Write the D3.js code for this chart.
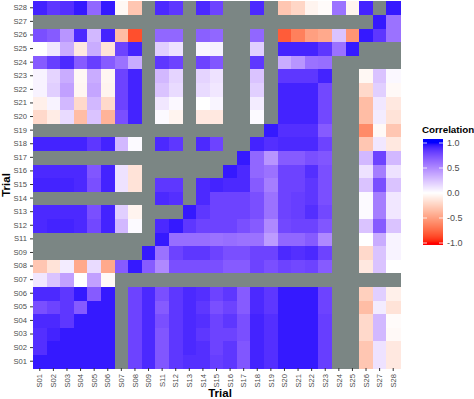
<!DOCTYPE html>
<html>
<head>
<meta charset="utf-8">
<script src="https://cdn.jsdelivr.net/npm/d3@7"></script>
<style>
  body { margin: 0; background: #fff; }
  svg  { display: block; font-family: "Liberation Sans", Arial, sans-serif; }
</style>
</head>
<body>
<div id="chart"></div>
<script>
var NA = null;

// trials on both axes (S10 is missing in the source)
var trials = ["S01","S02","S03","S04","S05","S06","S07","S08","S09",
              "S11","S12","S13","S14","S15","S16","S17","S18","S19",
              "S20","S21","S22","S23","S24","S25","S26","S27","S28"];

// one row of correlations per trial, columns in the order of `trials`
var s01 = [0.95,0.95,0.95,0.95,0.95,0.95,NA,0.8,0.9,0.72,0.85,0.88,0.88,0.82,0.85,0.72,0.92,0.88,0.95,0.95,0.95,0.82,NA,NA,-0.3,0.12,-0.12];
var s02 = [0.88,0.95,0.95,0.95,0.95,0.95,NA,0.8,0.9,0.72,0.85,0.9,0.88,0.8,0.85,0.72,0.92,0.88,0.95,0.95,0.95,0.82,NA,NA,-0.3,0.12,-0.12];
var s03 = [0.88,0.92,0.95,0.95,0.95,0.95,NA,0.8,0.9,0.72,0.85,0.9,0.85,0.8,0.8,0.75,0.92,0.88,0.95,0.95,0.95,0.82,NA,NA,-0.2,0.3,-0.03];
var s04 = [0.9,0.9,0.85,0.95,0.95,0.95,NA,0.8,0.9,0.75,0.85,0.9,0.88,0.8,0.85,0.75,0.92,0.88,0.95,0.95,0.95,0.82,NA,NA,-0.2,0.3,-0.02];
var s05 = [0.75,0.8,0.85,0.7,0.95,0.95,NA,0.8,0.9,0.7,0.85,0.9,0.85,0.75,0.8,0.7,0.9,0.85,0.95,0.95,0.95,0.8,NA,NA,-0.35,0.08,-0.15];
var s06 = [0.9,0.9,0.85,0.95,0.7,0.95,NA,0.8,0.9,0.75,0.85,0.9,0.88,0.8,0.85,0.7,0.9,0.85,0.95,0.95,0.95,0.8,NA,NA,-0.25,0.2,-0.08];
var s07 = [0.1,0.25,0.4,0.0,0.4,-0.03,NA,NA,NA,NA,NA,NA,NA,NA,NA,NA,NA,NA,NA,NA,NA,NA,NA,NA,NA,NA,NA];
var s08 = [-0.3,-0.15,0.08,-0.45,0.15,-0.45,0.7,0.95,0.7,0.5,0.75,0.75,0.75,0.75,0.7,0.7,0.8,0.75,0.8,0.78,0.8,0.7,NA,NA,-0.12,0.25,0.0];
var s09 = [NA,NA,NA,NA,NA,NA,NA,NA,0.95,0.6,0.8,0.85,0.85,0.8,0.75,0.75,0.8,0.8,0.9,0.88,0.9,0.8,NA,NA,-0.2,0.25,0.05];
var s11 = [NA,NA,NA,NA,NA,NA,NA,NA,NA,0.95,0.62,0.62,0.62,0.6,0.62,0.6,0.6,0.42,0.65,0.65,0.7,0.5,NA,NA,0.0,0.35,0.05];
var s12 = [0.9,0.92,0.92,0.9,0.78,0.92,0.3,0.02,NA,0.9,0.95,0.85,0.8,0.8,0.8,0.75,0.7,0.5,0.78,0.8,0.8,0.72,NA,NA,0.25,0.7,0.25];
var s13 = [0.9,0.9,0.9,0.9,0.75,0.92,0.2,-0.06,NA,NA,NA,0.95,0.85,0.8,0.8,0.8,0.75,0.6,0.8,0.82,0.88,0.78,NA,NA,0.02,0.55,0.1];
var s14 = [NA,NA,NA,NA,NA,NA,NA,NA,NA,0.9,0.88,NA,0.9,0.8,0.8,0.8,0.75,0.6,0.8,0.82,0.85,0.75,NA,NA,0.02,0.55,0.1];
var s15 = [0.92,0.92,0.92,0.9,0.75,0.92,0.12,-0.15,NA,0.85,0.85,NA,0.9,0.92,0.9,0.9,0.7,0.55,0.8,0.8,0.85,0.75,NA,NA,0.25,0.75,0.25];
var s16 = [0.9,0.9,0.9,0.9,0.72,0.92,0.12,-0.15,NA,NA,NA,NA,NA,NA,0.95,0.9,0.65,0.6,0.8,0.8,0.88,0.75,NA,NA,0.12,0.55,0.12];
var s17 = [NA,NA,NA,NA,NA,NA,NA,NA,NA,NA,NA,NA,NA,NA,NA,0.95,0.65,0.45,0.7,0.7,0.75,0.72,NA,NA,0.3,0.8,0.3];
var s18 = [0.92,0.92,0.92,0.92,0.85,0.92,0.3,0.02,NA,0.9,0.85,NA,0.9,0.8,NA,NA,0.92,0.88,0.9,0.9,0.9,0.8,NA,NA,-0.3,0.1,-0.12];
var s19 = [NA,NA,NA,NA,NA,NA,NA,NA,NA,NA,NA,NA,NA,NA,NA,NA,NA,0.95,0.88,0.88,0.88,0.7,NA,NA,-0.6,-0.03,-0.3];
var s20 = [-0.2,-0.1,0.15,-0.35,0.25,-0.4,0.75,0.92,NA,0.02,-0.06,NA,-0.12,-0.12,NA,NA,0.02,NA,0.92,0.92,0.92,0.78,NA,NA,-0.35,0.08,-0.15];
var s21 = [-0.08,0.05,0.3,-0.2,0.3,-0.2,0.8,0.92,NA,0.1,0.03,NA,0.0,0.04,NA,NA,0.08,NA,0.92,0.92,0.92,0.78,NA,NA,-0.35,0.1,-0.12];
var s22 = [0.05,0.2,0.4,-0.05,0.38,-0.06,0.8,0.92,NA,0.25,0.15,NA,0.15,0.1,NA,NA,0.2,NA,0.92,0.92,0.92,0.78,NA,NA,-0.2,0.2,-0.03];
var s23 = [0.05,0.18,0.35,-0.04,0.35,-0.05,0.8,0.92,NA,0.3,0.18,NA,0.18,0.12,NA,NA,0.25,NA,0.85,0.85,0.85,0.92,NA,NA,-0.04,0.25,0.03];
var s24 = [0.7,0.82,0.9,0.7,0.82,0.7,0.6,0.35,NA,0.85,0.8,NA,0.8,0.72,NA,NA,0.85,NA,0.35,0.45,0.6,0.62,NA,NA,NA,NA,NA];
var s25 = [0.0,0.1,0.35,-0.12,0.35,-0.15,0.8,0.92,NA,0.2,0.12,NA,0.04,0.06,NA,NA,0.2,NA,0.92,0.92,0.92,0.85,0.6,0.95,NA,NA,NA];
var s26 = [0.75,0.7,0.45,0.9,0.3,0.92,-0.35,-0.85,NA,0.65,0.65,NA,0.68,0.65,NA,NA,0.65,NA,-0.8,-0.65,-0.5,-0.45,0.25,-0.55,0.95,0.85,0.6];
var s27 = [NA,NA,NA,NA,NA,NA,NA,NA,NA,NA,NA,NA,NA,NA,NA,NA,NA,NA,NA,NA,NA,NA,NA,NA,NA,0.95,0.6];
var s28 = [0.92,0.85,0.88,0.95,0.65,0.95,-0.04,-0.3,NA,0.9,0.85,NA,0.9,0.8,NA,NA,0.9,NA,-0.3,-0.22,-0.06,-0.02,0.6,-0.06,0.92,NA,0.95];

var rows = [s01,s02,s03,s04,s05,s06,s07,s08,s09,s11,s12,s13,s14,s15,s16,s17,s18,s19,
            s20,s21,s22,s23,s24,s25,s26,s27,s28];

var legendTicks = [-1, -0.5, 0, 0.5, 1];

var width   = 474,
    height  = 399,
    naColor = "#7b8684";

var svg = d3.select("#chart").append("svg")
  .attr("width", width)
  .attr("height", height);

var x = d3.scaleBand().domain(trials).range([33, 400]);
var y = d3.scaleBand().domain(trials).range([368, 1]);

var color = d3.scaleLinear()
  .domain([-1, 0, 1])
  .range(["#ff0000", "#ffffff", "#0000ff"])
  .interpolate(d3.interpolateLab)
  .clamp(true);

// flatten into cells
var cells = [];
rows.forEach(function (row, i) {
  row.forEach(function (v, j) {
    cells.push({ row: trials[i], col: trials[j], value: v });
  });
});

svg.append("g")
  .attr("shape-rendering", "crispEdges")
  .selectAll("rect")
  .data(cells)
  .join("rect")
    .attr("x", function (d) { return x(d.col); })
    .attr("y", function (d) { return y(d.row); })
    .attr("width", x.bandwidth() + 0.5)
    .attr("height", y.bandwidth() + 0.5)
    .attr("fill", function (d) { return d.value === null ? naColor : color(d.value); });

/*--------------------------- axes ---------------------------*/

var yAxis = svg.append("g")
  .attr("transform", "translate(33,0)")
  .call(d3.axisLeft(y).tickSize(3).tickPadding(3));

var xAxis = svg.append("g")
  .attr("transform", "translate(0,368)")
  .call(d3.axisBottom(x).tickSize(3).tickPadding(3));

xAxis.selectAll("text")
  .attr("transform", "rotate(-90)")
  .attr("x", -6)
  .attr("y", 0)
  .attr("dy", "0.35em")
  .style("text-anchor", "end");

[xAxis, yAxis].forEach(function (ax) {
  ax.select(".domain").remove();
  ax.selectAll(".tick line").attr("stroke", "#333333");
  ax.selectAll(".tick text")
    .attr("fill", "#4d4d4d")
    .style("font-size", "7.6px")
    .style("font-family", "'Liberation Sans', Arial, sans-serif");
});

svg.append("text")
  .attr("x", 220)
  .attr("y", 397)
  .attr("text-anchor", "middle")
  .style("font-size", "11.5px")
  .style("font-weight", "bold")
  .text("Trial");

svg.append("text")
  .attr("transform", "translate(10,185) rotate(-90)")
  .attr("text-anchor", "middle")
  .style("font-size", "11.5px")
  .style("font-weight", "bold")
  .text("Trial");

/*--------------------------- legend ---------------------------*/

var ly = d3.scaleLinear().domain([-1, 1]).range([243, 143]);
var barX = 423, barW = 20, barTop = 139, barBottom = 245;

var legend = svg.append("g");

legend.append("text")
  .attr("x", 422)
  .attr("y", 133)
  .style("font-size", "9.8px")
  .style("font-weight", "bold")
  .text("Correlation");

var bins = d3.range(barTop, barBottom, 1);
legend.append("g")
  .attr("shape-rendering", "crispEdges")
  .selectAll("rect")
  .data(bins)
  .join("rect")
    .attr("x", barX)
    .attr("y", function (d) { return d; })
    .attr("width", barW)
    .attr("height", 1.2)
    .attr("fill", function (d) { return color(ly.invert(d + 0.5)); });

legend.selectAll("line.tl")
  .data(legendTicks)
  .join("line")
    .attr("class", "tl")
    .attr("x1", barX).attr("x2", barX + 4)
    .attr("y1", function (d) { return ly(d); })
    .attr("y2", function (d) { return ly(d); })
    .attr("stroke", "#ffffff").attr("stroke-width", 0.8);

legend.selectAll("line.tr")
  .data(legendTicks)
  .join("line")
    .attr("class", "tr")
    .attr("x1", barX + barW - 4).attr("x2", barX + barW)
    .attr("y1", function (d) { return ly(d); })
    .attr("y2", function (d) { return ly(d); })
    .attr("stroke", "#ffffff").attr("stroke-width", 0.8);

legend.selectAll("text.lab")
  .data(legendTicks)
  .join("text")
    .attr("class", "lab")
    .attr("x", 447)
    .attr("y", function (d) { return ly(d); })
    .attr("dy", "0.35em")
    .attr("fill", "#4d4d4d")
    .style("font-size", "9px")
    .text(function (d) { return d.toFixed(1); });
</script>
</body>
</html>
